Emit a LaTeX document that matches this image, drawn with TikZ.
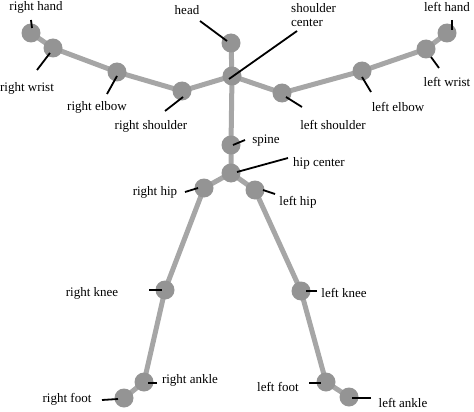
\documentclass[tikz,border=0pt]{standalone}
\usepackage{fontspec}
\setmainfont{Liberation Serif}
\begin{document}
\begin{tikzpicture}[x=1pt,y=-1pt,
  bone/.style={draw=black!35,line width=5pt},
  joint/.style={circle,fill=black!42,minimum size=19pt,inner sep=0pt},
  lbl/.style={inner sep=0pt,font=\fontsize{13}{14}\selectfont},
  leader/.style={draw=black,line width=1.8pt}]
\useasboundingbox (0,0) rectangle (474,412);
% joint positions
\coordinate (rhand) at (31,33);
\coordinate (rwrist) at (53,48);
\coordinate (relbow) at (117,72);
\coordinate (rshoulder) at (182,91);
\coordinate (head) at (231,43);
\coordinate (scenter) at (232,76);
\coordinate (lhand) at (447,33);
\coordinate (lwrist) at (426,49);
\coordinate (lelbow) at (362,71);
\coordinate (lshoulder) at (282,93);
\coordinate (spine) at (231,145);
\coordinate (hcenter) at (231,173);
\coordinate (rhip) at (204,188);
\coordinate (lhip) at (255,190);
\coordinate (rknee) at (165,290);
\coordinate (rankle) at (144,382);
\coordinate (rfoot) at (124,398);
\coordinate (lknee) at (301,291);
\coordinate (lfoot) at (326,382);
\coordinate (lankle) at (349,397);
% bones
\draw[bone] (rhand) -- (rwrist) -- (relbow) -- (rshoulder) -- (scenter) -- (lshoulder) -- (lelbow) -- (lwrist) -- (lhand);
\draw[bone] (head) -- (scenter) -- (spine) -- (hcenter);
\draw[bone] (rfoot) -- (rankle) -- (rknee) -- (rhip) -- (hcenter) -- (lhip) -- (lknee) -- (lfoot) -- (lankle);
% joints
\foreach \j in {rhand,rwrist,relbow,rshoulder,head,scenter,lhand,lwrist,lelbow,lshoulder,spine,hcenter,rhip,lhip,rknee,rankle,rfoot,lknee,lfoot,lankle}
  \node[joint] (n-\j) at (\j) {};
% labels
\node[lbl] (t-rhand) at (36,7) {right hand};
\node[lbl] (t-rwrist) at (27,88) {right wrist};
\node[lbl] (t-relbow) at (97,107) {right elbow};
\node[lbl] (t-rshoulder) at (151,126) {right shoulder};
\node[lbl] (t-head) at (187,10) {head};
\node[lbl,anchor=west,align=left] (t-scenter) at (291,15) {shoulder\\center};
\node[lbl] (t-lhand) at (447,7) {left hand};
\node[lbl] (t-lwrist) at (447,82) {left wrist};
\node[lbl] (t-lelbow) at (398,107) {left elbow};
\node[lbl] (t-lshoulder) at (333,125) {left shoulder};
\node[lbl] (t-spine) at (266,141) {spine};
\node[lbl] (t-hcenter) at (319,163) {hip center};
\node[lbl] (t-rhip) at (155,192) {right hip};
\node[lbl] (t-lhip) at (298,202) {left hip};
\node[lbl] (t-rknee) at (92,293) {right knee};
\node[lbl] (t-rankle) at (190,380) {right ankle};
\node[lbl] (t-rfoot) at (67,399) {right foot};
\node[lbl] (t-lknee) at (344,293) {left knee};
\node[lbl] (t-lfoot) at (278,387) {left foot};
\node[lbl] (t-lankle) at (403,403) {left ankle};
% leader ends
\coordinate (a1) at (31,20);   \coordinate (b1) at (32,28);
\coordinate (a2) at (37,70);   \coordinate (b2) at (50,53);
\coordinate (a3) at (107,94);  \coordinate (b3) at (117,76);
\coordinate (a4) at (165,111); \coordinate (b4) at (183,97);
\coordinate (a5) at (200,21);  \coordinate (b5) at (227,41);
\coordinate (a6) at (297,31);  \coordinate (b6) at (229,79);
\coordinate (a7) at (452,20);  \coordinate (b7) at (452,30);
\coordinate (a8) at (439,68);  \coordinate (b8) at (431,57);
\coordinate (a9) at (371,92);  \coordinate (b9) at (362,77);
\coordinate (a10) at (302,107); \coordinate (b10) at (286,97);
\coordinate (a11) at (245,140); \coordinate (b11) at (233,145);
\coordinate (a12) at (288,158); \coordinate (b12) at (237,172);
\coordinate (a13) at (185,192); \coordinate (b13) at (198,188);
\coordinate (a14) at (275,194); \coordinate (b14) at (263,190);
\coordinate (a15) at (149,290); \coordinate (b15) at (162,290);
\coordinate (a16) at (157,383); \coordinate (b16) at (148,383);
\coordinate (a17) at (102,400); \coordinate (b17) at (118,399);
\coordinate (a18) at (317,291); \coordinate (b18) at (306,291);
\coordinate (a19) at (309,383); \coordinate (b19) at (321,383);
\coordinate (a20) at (371,398); \coordinate (b20) at (352,398);
\foreach \i in {1,...,20} \draw[leader] (a\i) -- (b\i);
\end{tikzpicture}
\end{document}
